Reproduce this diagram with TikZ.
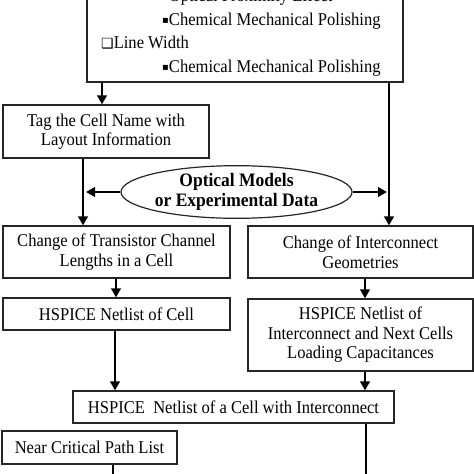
\documentclass[tikz,border=0pt]{standalone}
\usepackage{fontspec}
\setmainfont{Liberation Serif}[FakeStretch=0.92]
\newfontfamily\symfont{DejaVu Sans}
\usetikzlibrary{arrows.meta,shapes.geometric}
\newcommand{\sqbul}{{\symfont\fontsize{10}{10}\selectfont\raisebox{1.5pt}{▪}}}
\begin{document}
\begin{tikzpicture}[x=1pt,y=-1pt,
  box/.style={draw=black!85, line width=1.2pt, inner sep=0pt, align=center,
    font=\fontsize{18}{19.5}\selectfont},
  txt/.style={inner sep=0pt, anchor=base west, font=\fontsize{18}{19.5}\selectfont},
  oval/.style={ellipse, draw=black!85, line width=1.2pt, inner sep=0pt, align=center,
    font=\fontsize{19}{20}\selectfont\bfseries},
  arr/.style={line width=2.5pt, -{Triangle[length=9pt,width=9.5pt]}},
  ln/.style={line width=2.5pt}]
\useasboundingbox (0,0) rectangle (474,474);
\clip (0,0) rectangle (474,474);
\fill[white] (0,0) rectangle (474,474);

% top box (cut by the page edge, as in the reference)
\node[box, minimum width=316pt, minimum height=132pt] (top) at (245,16) {};
\node[txt] (t1) at (162,1.5) {\sqbul Optical Proximity Effect};
\node[txt] (t2) at (162,25) {\sqbul Chemical Mechanical Polishing};
\node[txt] (t3) at (101,48.5) {{\symfont\fontsize{14}{14}\selectfont ❑}Line Width};
\node[txt] (t4) at (162,72) {\sqbul Chemical Mechanical Polishing};

\node[box, minimum width=206pt, minimum height=53pt] (tag) at (106,131.5)
  {Tag the Cell Name with\\Layout Information};
\node[oval, minimum width=231pt, minimum height=52pt] (ell) at (236.5,192)
  {Optical Models\\or Experimental Data};
\node[box, minimum width=227pt, minimum height=52pt] (chl) at (116.5,252)
  {Change of Transistor Channel\\Lengths in a Cell};
\node[box, minimum width=225pt, minimum height=52pt] (chr) at (360.5,252)
  {Change of Interconnect\\Geometries};
\node[box, minimum width=227pt, minimum height=32pt] (hcl) at (116.5,314)
  {HSPICE Netlist of Cell};
\node[box, minimum width=225pt, minimum height=72pt] (hcr) at (360.5,335)
  {HSPICE Netlist of\\Interconnect and Next Cells\\Loading Capacitances};
\node[box, minimum width=321pt, minimum height=32pt] (hci) at (233.5,407)
  {HSPICE\ \ Netlist of a Cell with Interconnect};
\node[box, minimum width=175pt, minimum height=33pt] (ncp) at (89.5,447.5)
  {Near Critical Path List};

\coordinate (eL) at (86,192);
\coordinate (eR) at (387,192);
\coordinate (b1) at (113,474);
\coordinate (b2) at (366,474);

\draw[arr] (top.south -| 102,0) -- (tag.north -| 102,0);
\draw[arr] (top.south -| 389,0) -- (chr.north -| 389,0);
\draw[arr] (tag.south -| 83,0) -- (chl.north -| 83,0);
\draw[arr] (ell.west) -- (eL);
\draw[arr] (ell.east) -- (eR);
\draw[arr] (chl.south -| 116,0) -- (hcl.north -| 116,0);
\draw[arr] (chr.south -| 365,0) -- (hcr.north -| 365,0);
\draw[arr] (hcl.south -| 115,0) -- (hci.north -| 115,0);
\draw[arr] (hcr.south -| 365,0) -- (hci.north -| 365,0);
\draw[ln] (hci.south -| b2) -- (b2);
\draw[ln] (ncp.south -| b1) -- (b1);
\end{tikzpicture}
\end{document}
